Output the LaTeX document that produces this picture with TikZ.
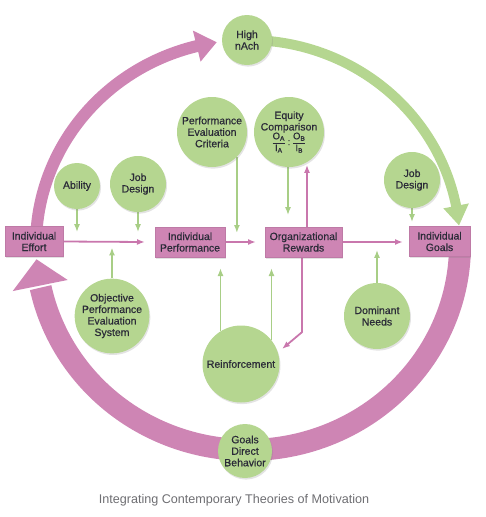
\documentclass[tikz,border=0pt]{standalone}
\usepackage{fontspec}
\setmainfont{Liberation Sans}
\newfontfamily\lblfont[FakeBold=0.6]{Liberation Sans}
\usetikzlibrary{arrows.meta,shadows,calc}
\definecolor{pk}{HTML}{CE85B4}
\definecolor{gr}{HTML}{B5D690}
\definecolor{grl}{HTML}{A8CE86}
\definecolor{pkl}{HTML}{C977AD}
\definecolor{txt}{HTML}{2B2B38}
\definecolor{capc}{HTML}{6E6E72}
\pgfdeclarelayer{bg}
\pgfsetlayers{bg,main}
\begin{document}
\begin{tikzpicture}[x=1pt,y=-1pt,
  shd/.style={drop shadow={opacity=0.22,shadow xshift=1pt,shadow yshift=-1.6pt}},
  box/.style={shd,fill=pk,draw=pk!92!black,line width=0.3pt,minimum width=#1,minimum height=30pt,
    inner sep=0pt,align=center,font=\lblfont\fontsize{10.5}{11.5}\selectfont,text=txt},
  bub/.style={shd,circle,fill=gr,minimum size=#1,inner sep=0pt,align=center,
    font=\lblfont\fontsize{10.5}{11.5}\selectfont,text=txt},
  ga/.style={draw=grl,line width=1.8pt,-{Latex[length=8pt,width=6pt]}},
  pa/.style={draw=pkl,line width=1.8pt,-{Latex[length=8pt,width=6pt]}},
  tip/.style={-{Latex[length=8pt,width=6pt]}}
]
\useasboundingbox (0,0) rectangle (485,517);

% circles
\node[bub=50pt] (nach) at (247,40) {High\\nAch};
\node[bub=46pt] (abil) at (77,186) {Ability};
\node[bub=56pt] (jobl) at (138,184) {Job\\Design};
\node[bub=70pt] (pec) at (212,132) {Performance\\Evaluation\\Criteria};
\node[bub=70pt] (eq) at (289,132) {Equity\\Comparison\\[-1pt]
  {\fontsize{9.5}{10}\selectfont$\displaystyle\frac{\mbox{O\textsubscript{A}}}{\mbox{I\textsubscript{A}}}\,\mbox{:}\,\frac{\mbox{O\textsubscript{B}}}{\mbox{I\textsubscript{B}}}$}};
\node[bub=56pt] (jobr) at (412,180) {Job\\Design};
\node[bub=66pt] (opes) at (112,316) {Objective\\Performance\\Evaluation\\System};
\node[bub=77pt] (reinf) at (241,364) {Reinforcement};
\node[bub=66pt] (dom) at (377,316) {Dominant\\Needs};
\node[bub=54pt] (gdb) at (245,451) {Goals\\Direct\\Behavior};

% boxes
\node[box=58pt] (eff) at (34,241.5) {Individual\\Effort};
\node[box=70pt] (perf) at (190,242) {Individual\\Performance};
\node[box=77pt] (rew) at (303.5,242) {Organizational\\Rewards};
\node[box=61pt] (goal) at (439.5,241.5) {Individual\\Goals};

% caption
\node[font=\fontsize{12.6}{14}\selectfont,text=capc] (cap) at (234,500) {Integrating Contemporary Theories of Motivation};

\begin{pgfonlayer}{bg}
% big arcs
\draw[pk,line width=12pt] plot[domain=180:103.5,samples=70] ({248+212*cos(\x)},{245-205*sin(\x)});
\fill[pk] ({248+196*cos(104)},{245-189*sin(104)}) -- ({248+228*cos(104)},{245-221*sin(104)})
  -- ({248+212*cos(98.5)},{245-205*sin(98.5)}) -- cycle;

\draw[gr,line width=10pt] plot[domain=86:10.5,samples=70] ({248+212*cos(\x)},{245-205*sin(\x)});
\fill[gr] ({248+199*cos(11)},{245-192*sin(11)}) -- ({248+225*cos(11)},{245-218*sin(11)})
  -- ({248+212*cos(5.5)},{245-205*sin(5.5)}) -- cycle;

\draw[pk,line width=22pt] plot[domain=2:-168,samples=140] ({248+212*cos(\x)},{245-205*sin(\x)});
\fill[pk] ({248+184*cos(-168.6)},{245-177*sin(-168.6)}) -- ({248+240*cos(-168.6)},{245-233*sin(-168.6)})
  -- ({248+212*cos(-176)},{245-205*sin(-176)}) -- cycle;

% thin connectors
\coordinate (c1) at (145,242);
\coordinate (c2) at (256,242);
\coordinate (c3) at (403,242);
\coordinate (r1) at (282,349);
\draw[pa] (eff.east) -- (c1);
\draw[pa] (perf.east) -- (c2);
\draw[pa] (rew.east) -- (c3);
\draw[ga] (abil.south) -- ++(0,23);
\draw[ga] (jobl.south) -- ++(0,20);
\draw[ga] (opes.north) -- ++(0,-31);
\draw[ga] (pec.-45) -- (pec.-45 |- 0,233);
\draw[ga] ([xshift=-1pt]eq.south) -- ++(0,48);
\draw[pa] ([xshift=3.5pt]rew.north) -- ++(0,-62);
\draw[ga] (jobr.south) -- ++(0,14);
\draw[ga] (dom.north) -- ++(0,-33);
\draw[ga] (reinf.122) -- (reinf.122 |- 0,268);
\draw[ga] (reinf.38) -- (reinf.38 |- 0,268);
\draw[draw=pkl,line width=1.8pt,tip] ([xshift=-1.5pt]rew.south) -- ++(0,75) -- (r1);
\end{pgfonlayer}
\end{tikzpicture}
\end{document}
